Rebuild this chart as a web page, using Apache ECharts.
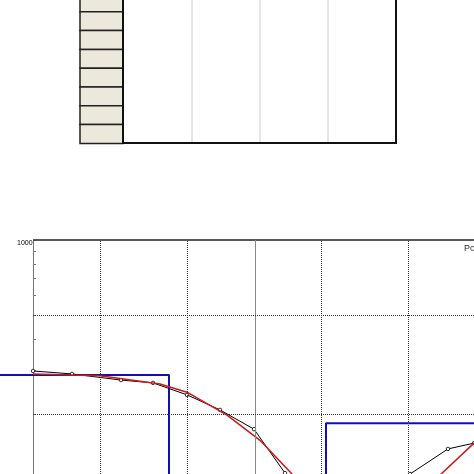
<!DOCTYPE html><html><head><meta charset="utf-8"><script src="https://cdn.jsdelivr.net/npm/echarts@6/dist/echarts.min.js"></script></head><body style="margin:0"><div id="c" style="width:474px;height:474px"></div><script>
var blackLeft=[[0,298],[3.9,290],[8.8,274],[12,267],[15.4,239],[18.7,208],[22.1,174],[25.2,116],[26.7,75]];
var blackRight=[[36.2,75],[37.7,115],[41.5,145],[44.1,153]];
var redLeft=[[0,290],[6.7,285],[12.7,264],[15.4,245],[19.4,198],[22.7,157],[25.9,115],[27.2,75]];
var redRight=[[35.9,75],[44.1,153]];
var blueA=[[-3.3,287],[13.6,287],[13.6,50]];
var blueB=[[29.3,50],[29.3,184],[44.1,184]];
var vGrid=[6.7,15.4,28.8,37.5];
var vSolid=[22.2];
var hGrid=[500,200];
var yTopLabel='1000';
var tableRows=8;
var c=echarts.init(document.getElementById('c'));
function ln(d,col,w,sym){return {type:'line',data:d,symbol:sym?'circle':'none',symbolSize:3.5,showSymbol:!!sym,lineStyle:{color:col,width:w},itemStyle:{color:'#fff',borderColor:'#000',borderWidth:0.8},animation:false,z:sym?3:4};}
var dot={type:'dotted',color:'#333',width:1};
var s=[ln(blueA,'#1010b0',2),ln(blueB,'#1010b0',2),ln(redLeft,'#d01818',1.5),ln(redRight,'#d01818',1.5),ln(blackLeft,'#000',1,true),ln(blackRight,'#000',1,true)];
s[0].markLine={silent:true,symbol:'none',label:{show:false},data:vGrid.map(function(v){return {xAxis:v,lineStyle:dot};}).concat(vSolid.map(function(v){return {xAxis:v,lineStyle:{type:'solid',color:'#888',width:1}};})).concat(hGrid.map(function(v){return [{coord:[0,v],lineStyle:dot},{coord:[44.1,v]}];}))};
s[0].z=2;
var g=[];
var top0=-7,rh=18.8;
for(var i=0;i<tableRows;i++)g.push({type:'rect',shape:{x:80,y:top0+i*rh,width:43,height:rh},style:{fill:'#ece9dc',stroke:'#222',lineWidth:1.5}});
g.push({type:'rect',shape:{x:123,y:-5,width:273,height:148},style:{fill:'none',stroke:'#111',lineWidth:2}});
[192,260,328].forEach(function(x){g.push({type:'line',shape:{x1:x,y1:0,x2:x,y2:142},style:{stroke:'#ccc',lineWidth:1}});});
g.push({type:'text',left:464,top:244,style:{text:'Pc',font:'9px sans-serif',fill:'#333'}});
g.push({type:'text',left:17,top:240,style:{text:yTopLabel,font:'7px sans-serif',fill:'#000'}});
g.push({type:'line',shape:{x1:33,y1:240,x2:474,y2:240},style:{stroke:'#222',lineWidth:1.5}});
c.setOption({animation:false,graphic:g,
grid:{left:0,right:0,top:240,bottom:0,outerBoundsMode:'none',containLabel:false},
xAxis:{type:'value',min:-3.3,max:44.1,axisLine:{show:false},axisTick:{show:false},axisLabel:{show:false},splitLine:{show:false}},
yAxis:{type:'log',min:115,max:1000,logBase:10,axisLine:{onZero:true,lineStyle:{color:'#777'}},axisTick:{inside:true,length:3,lineStyle:{color:'#444'}},minorTick:{show:true,splitNumber:9,length:3},
axisLabel:{show:false},splitLine:{show:false}},
series:s});
</script></body></html>
